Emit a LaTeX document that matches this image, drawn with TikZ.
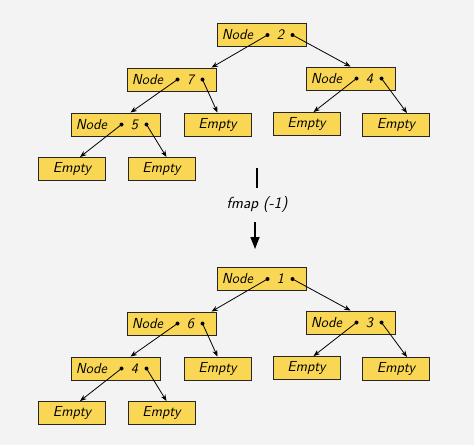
\documentclass[tikz,border=0pt]{standalone}
\usetikzlibrary{arrows.meta}
\definecolor{bg}{RGB}{243,243,243}
\definecolor{boxyellow}{RGB}{249,214,84}
\newcommand\handfont{\sffamily\itshape\fontsize{14.5}{16}\selectfont}
\tikzset{
  box/.style={draw=black!85, fill=boxyellow, line width=0.9pt, minimum height=23pt, inner sep=0pt},
  nodebox/.style={box, minimum width=89pt},
  emptybox/.style={box, minimum width=67pt, font=\handfont},
  lbl/.style={font=\handfont, inner sep=0pt},
  dotmark/.style={circle, fill=black, inner sep=0pt, minimum size=4pt},
  link/.style={-{Stealth[length=6.5pt,width=5pt]}, line width=0.8pt},
}
\newcommand\mktnode[4]{%
  \node[nodebox] (#1) at (#2,#3) {};
  \node[lbl, xshift=-24pt] (#1-t) at (#1.center) {Node};
  \node[dotmark, xshift=6pt] (#1-l) at (#1.center) {};
  \node[lbl, xshift=19pt] (#1-n) at (#1.center) {#4};
  \node[dotmark, xshift=31pt] (#1-r) at (#1.center) {};
}
\newcommand\buildtree[5]{%
  \mktnode{#1root}{261.5}{35}{#2}
  \mktnode{#1L}{171.5}{79.5}{#3}
  \mktnode{#1R}{350.5}{78.5}{#4}
  \mktnode{#1LL}{115.5}{124.5}{#5}
  \node[emptybox] (#1LR) at (217.5,124.5) {Empty};
  \node[emptybox] (#1RL) at (306.5,124) {Empty};
  \node[emptybox] (#1RR) at (396,125) {Empty};
  \node[emptybox] (#1LLL) at (72,169) {Empty};
  \node[emptybox] (#1LLR) at (161.5,169) {Empty};
  \draw[link] (#1root-l.center) -- ([xshift=40pt]#1L.north);
  \draw[link] (#1root-r.center) -- ([xshift=0pt]#1R.north);
  \draw[link] (#1L-l.center) -- ([xshift=15pt]#1LL.north);
  \draw[link] (#1L-r.center) -- ([xshift=0pt]#1LR.north);
  \draw[link] (#1R-l.center) -- ([xshift=7pt]#1RL.north);
  \draw[link] (#1R-r.center) -- ([xshift=11pt]#1RR.north);
  \draw[link] (#1LL-l.center) -- ([xshift=8pt]#1LLL.north);
  \draw[link] (#1LL-r.center) -- ([xshift=5pt]#1LLR.north);
}
\begin{document}
\begin{tikzpicture}[x=1pt,y=-1pt]
  \fill[bg] (0,0) rectangle (474,445);
  \useasboundingbox (0,0) rectangle (474,445);
  \buildtree{a}{2}{7}{4}{5}
  \begin{scope}[yshift=-244pt]
    \buildtree{b}{1}{6}{3}{4}
  \end{scope}
  \node[lbl, font=\sffamily\itshape\fontsize{16}{18}\selectfont] (fmap) at (257,205) {fmap (-1)};
  \coordinate (bartop) at (257,168);
  \coordinate (barbot) at (257,188);
  \draw[line width=1.5pt] (bartop) -- (barbot);
  \coordinate (arrtop) at (255,222);
  \coordinate (arrbot) at (255,249);
  \draw[line width=1.5pt, -{Triangle[length=12pt,width=9pt]}] (arrtop) -- (arrbot);
\end{tikzpicture}
\end{document}
